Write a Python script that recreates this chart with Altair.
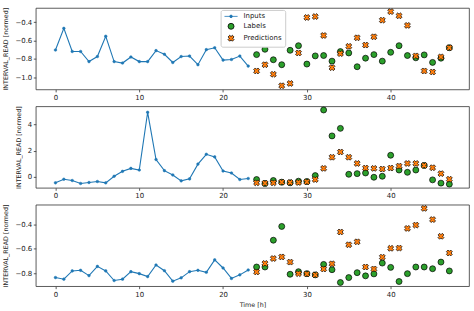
import altair as alt
import pandas as pd

# Hours: 24 input steps, then 24 predicted steps
hours_in = list(range(0, 24))
hours_out = list(range(24, 48))

# Example 1
inputs_1 = [-0.704, -0.468, -0.72, -0.72, -0.83, -0.775, -0.554, -0.83, -0.846, -0.78,
            -0.83, -0.83, -0.71, -0.75, -0.84, -0.775, -0.77, -0.864, -0.70, -0.68,
            -0.814, -0.807, -0.77, -0.879]
labels_1 = [-0.754, -0.696, -0.81, -0.864, -0.707, -0.657, -0.857, -0.768, -0.764, -0.825,
            -0.721, -0.736, -0.886, -0.793, -0.754, -0.825, -0.729, -0.657, -0.764, -0.789,
            -0.757, -0.839, -0.793, -0.679]
preds_1 = [-0.932, -0.864, -0.968, -1.093, -1.068, -0.736, -0.35, -0.34, -0.546, -0.896,
           -0.743, -0.664, -0.571, -0.65, -0.56, -0.379, -0.286, -0.332, -0.436, -0.768,
           -0.932, -0.943, -0.779, -0.679]

# Example 2
inputs_2 = [-0.45, -0.175, -0.275, -0.5, -0.425, -0.35, -0.45, 0.05, 0.425, 0.65,
            0.525, 4.925, 1.325, 0.475, 0.15, -0.3, -0.15, 0.975, 1.725, 1.525,
            0.45, 0.3, -0.2, -0.12]
labels_2 = [-0.2, -0.5, -0.275, -0.4, -0.45, -0.325, -0.35, 0.1, 5.1, 3.125,
            3.7, 0.2, 0.25, 0.3, -0.025, 0.05, 1.65, 0.525, 0.35, 0.525,
            0.875, -0.225, -0.475, -0.55]
preds_2 = [-0.45, -0.475, -0.45, -0.4, -0.425, -0.425, -0.375, -0.2, 0.65, 1.5,
           1.9, 1.5, 1.025, 0.675, 0.65, 0.6, 0.675, 0.825, 1.025, 1.025,
           0.875, 0.7, 0.25, -0.175]

# Example 3
inputs_3 = [-0.835, -0.848, -0.781, -0.776, -0.819, -0.744, -0.781, -0.859, -0.848, -0.787,
            -0.803, -0.827, -0.733, -0.779, -0.864, -0.837, -0.787, -0.776, -0.792, -0.691,
            -0.757, -0.842, -0.813, -0.773]
labels_3 = [-0.749, -0.749, -0.531, -0.419, -0.808, -0.787, -0.803, -0.813, -0.728, -0.771,
            -0.875, -0.835, -0.795, -0.821, -0.805, -0.717, -0.752, -0.867, -0.803, -0.749,
            -0.749, -0.763, -0.709, -0.781]
preds_3 = [-0.789, -0.72, -0.68, -0.667, -0.709, -0.803, -0.805, -0.813, -0.765, -0.723,
           -0.464, -0.568, -0.544, -0.749, -0.765, -0.669, -0.597, -0.595, -0.435, -0.408,
           -0.272, -0.363, -0.499, -0.635]

series_names = ["Inputs", "Labels", "Predictions"]
fill_colors = ["#1f77b4", "#2ca02c", "#ff7f0e"]
edge_colors = ["#1f77b4", "#000000", "#000000"]

# Custom symbols: a line with a dot for the input series, a filled "X" for predictions
line_dot = "M-2.2,0L2.2,0M-0.45,0A0.45,0.45,0,1,0,0.45,0A0.45,0.45,0,1,0,-0.45,0Z"
x_shape = ("M0.45,-1L1,-0.45L0.55,0L1,0.45L0.45,1L0,0.55L-0.45,1L-1,0.45"
           "L-0.55,0L-1,-0.45L-0.45,-1L0,-0.55Z")
shapes = [line_dot, "circle", x_shape]

legend = alt.Legend(
    title=None, orient="none", legendX=186, legendY=2, direction="vertical",
    fillColor="white", strokeColor="#cccccc", cornerRadius=2, padding=3,
    labelFont="DejaVu Sans", labelFontSize=7, labelColor="#222222",
    symbolSize=36, symbolStrokeWidth=0.8, symbolOffset=4, labelOffset=9,
    rowPadding=1,
)

fill_enc = alt.Fill("series:N", scale=alt.Scale(domain=series_names, range=fill_colors), legend=legend)
stroke_enc = alt.Stroke("series:N", scale=alt.Scale(domain=series_names, range=edge_colors), legend=legend)
shape_enc = alt.Shape("series:N", scale=alt.Scale(domain=series_names, range=shapes), legend=legend)


def panel(inputs, labels, preds, y_domain, y_ticks, y_format, bottom):
    df_in = pd.DataFrame({"hour": hours_in, "value": inputs, "series": "Inputs"})
    df_out = pd.DataFrame({
        "hour": hours_out + hours_out,
        "value": labels + preds,
        "series": ["Labels"] * len(labels) + ["Predictions"] * len(preds),
    })
    x_axis = dict(values=[0, 10, 20, 30, 40], format="d")
    if bottom:
        x_axis["title"] = "Time [h]"
        x_axis["titleColor"] = "#222222"
    else:
        x_axis["title"] = None
    x = alt.X("hour:Q", scale=alt.Scale(domain=[-2.35, 49.35], nice=False, zero=False),
              axis=alt.Axis(**x_axis))
    y = alt.Y("value:Q", scale=alt.Scale(domain=y_domain, nice=False, zero=False),
              axis=alt.Axis(values=y_ticks, format=y_format, title="INTERVAL_READ [normed]"))

    line = alt.Chart(df_in).mark_line(strokeWidth=1.1).encode(x=x, y=y, stroke=stroke_enc)
    dots = alt.Chart(df_in).mark_point(
        filled=True, shape="circle", size=7, opacity=1, strokeWidth=0.5
    ).encode(x=x, y=y, fill=fill_enc, stroke=stroke_enc)
    points = alt.Chart(df_out).mark_point(
        filled=True, size=36, opacity=1, strokeWidth=0.7
    ).encode(x=x, y=y, fill=fill_enc, stroke=stroke_enc, shape=shape_enc)
    return alt.layer(line, dots, points).properties(width=436, height=82)


top = panel(inputs_1, labels_1, preds_1, [-1.133, -0.246], [-1.0, -0.8, -0.6, -0.4], ".1f", False)
mid = panel(inputs_2, labels_2, preds_2, [-0.83, 5.38], [0, 2, 4], "d", False)
low = panel(inputs_3, labels_3, preds_3, [-0.905, -0.242], [-0.8, -0.6, -0.4], ".1f", True)

chart = alt.vconcat(top, mid, low, spacing=17, bounds="flush").properties(
    padding={"left": 2, "top": 5, "right": 4, "bottom": 4},
    background="white",
).configure_view(
    stroke="#333333", strokeWidth=0.8,
).configure_axis(
    grid=False, domain=False,
    tickColor="#333333", tickSize=2.5, tickWidth=0.8,
    labelFont="DejaVu Sans", labelFontSize=7, labelColor="#222222", labelPadding=1.5,
    titleFont="DejaVu Sans", titleFontSize=6.4, titleFontWeight="normal", titleColor="#222222",
).configure_axisY(
    titlePadding=6,
).configure_axisX(
    titlePadding=4, labelFlush=False,
)

chart.save("out.html", embed_options={"renderer": "svg", "actions": False})
